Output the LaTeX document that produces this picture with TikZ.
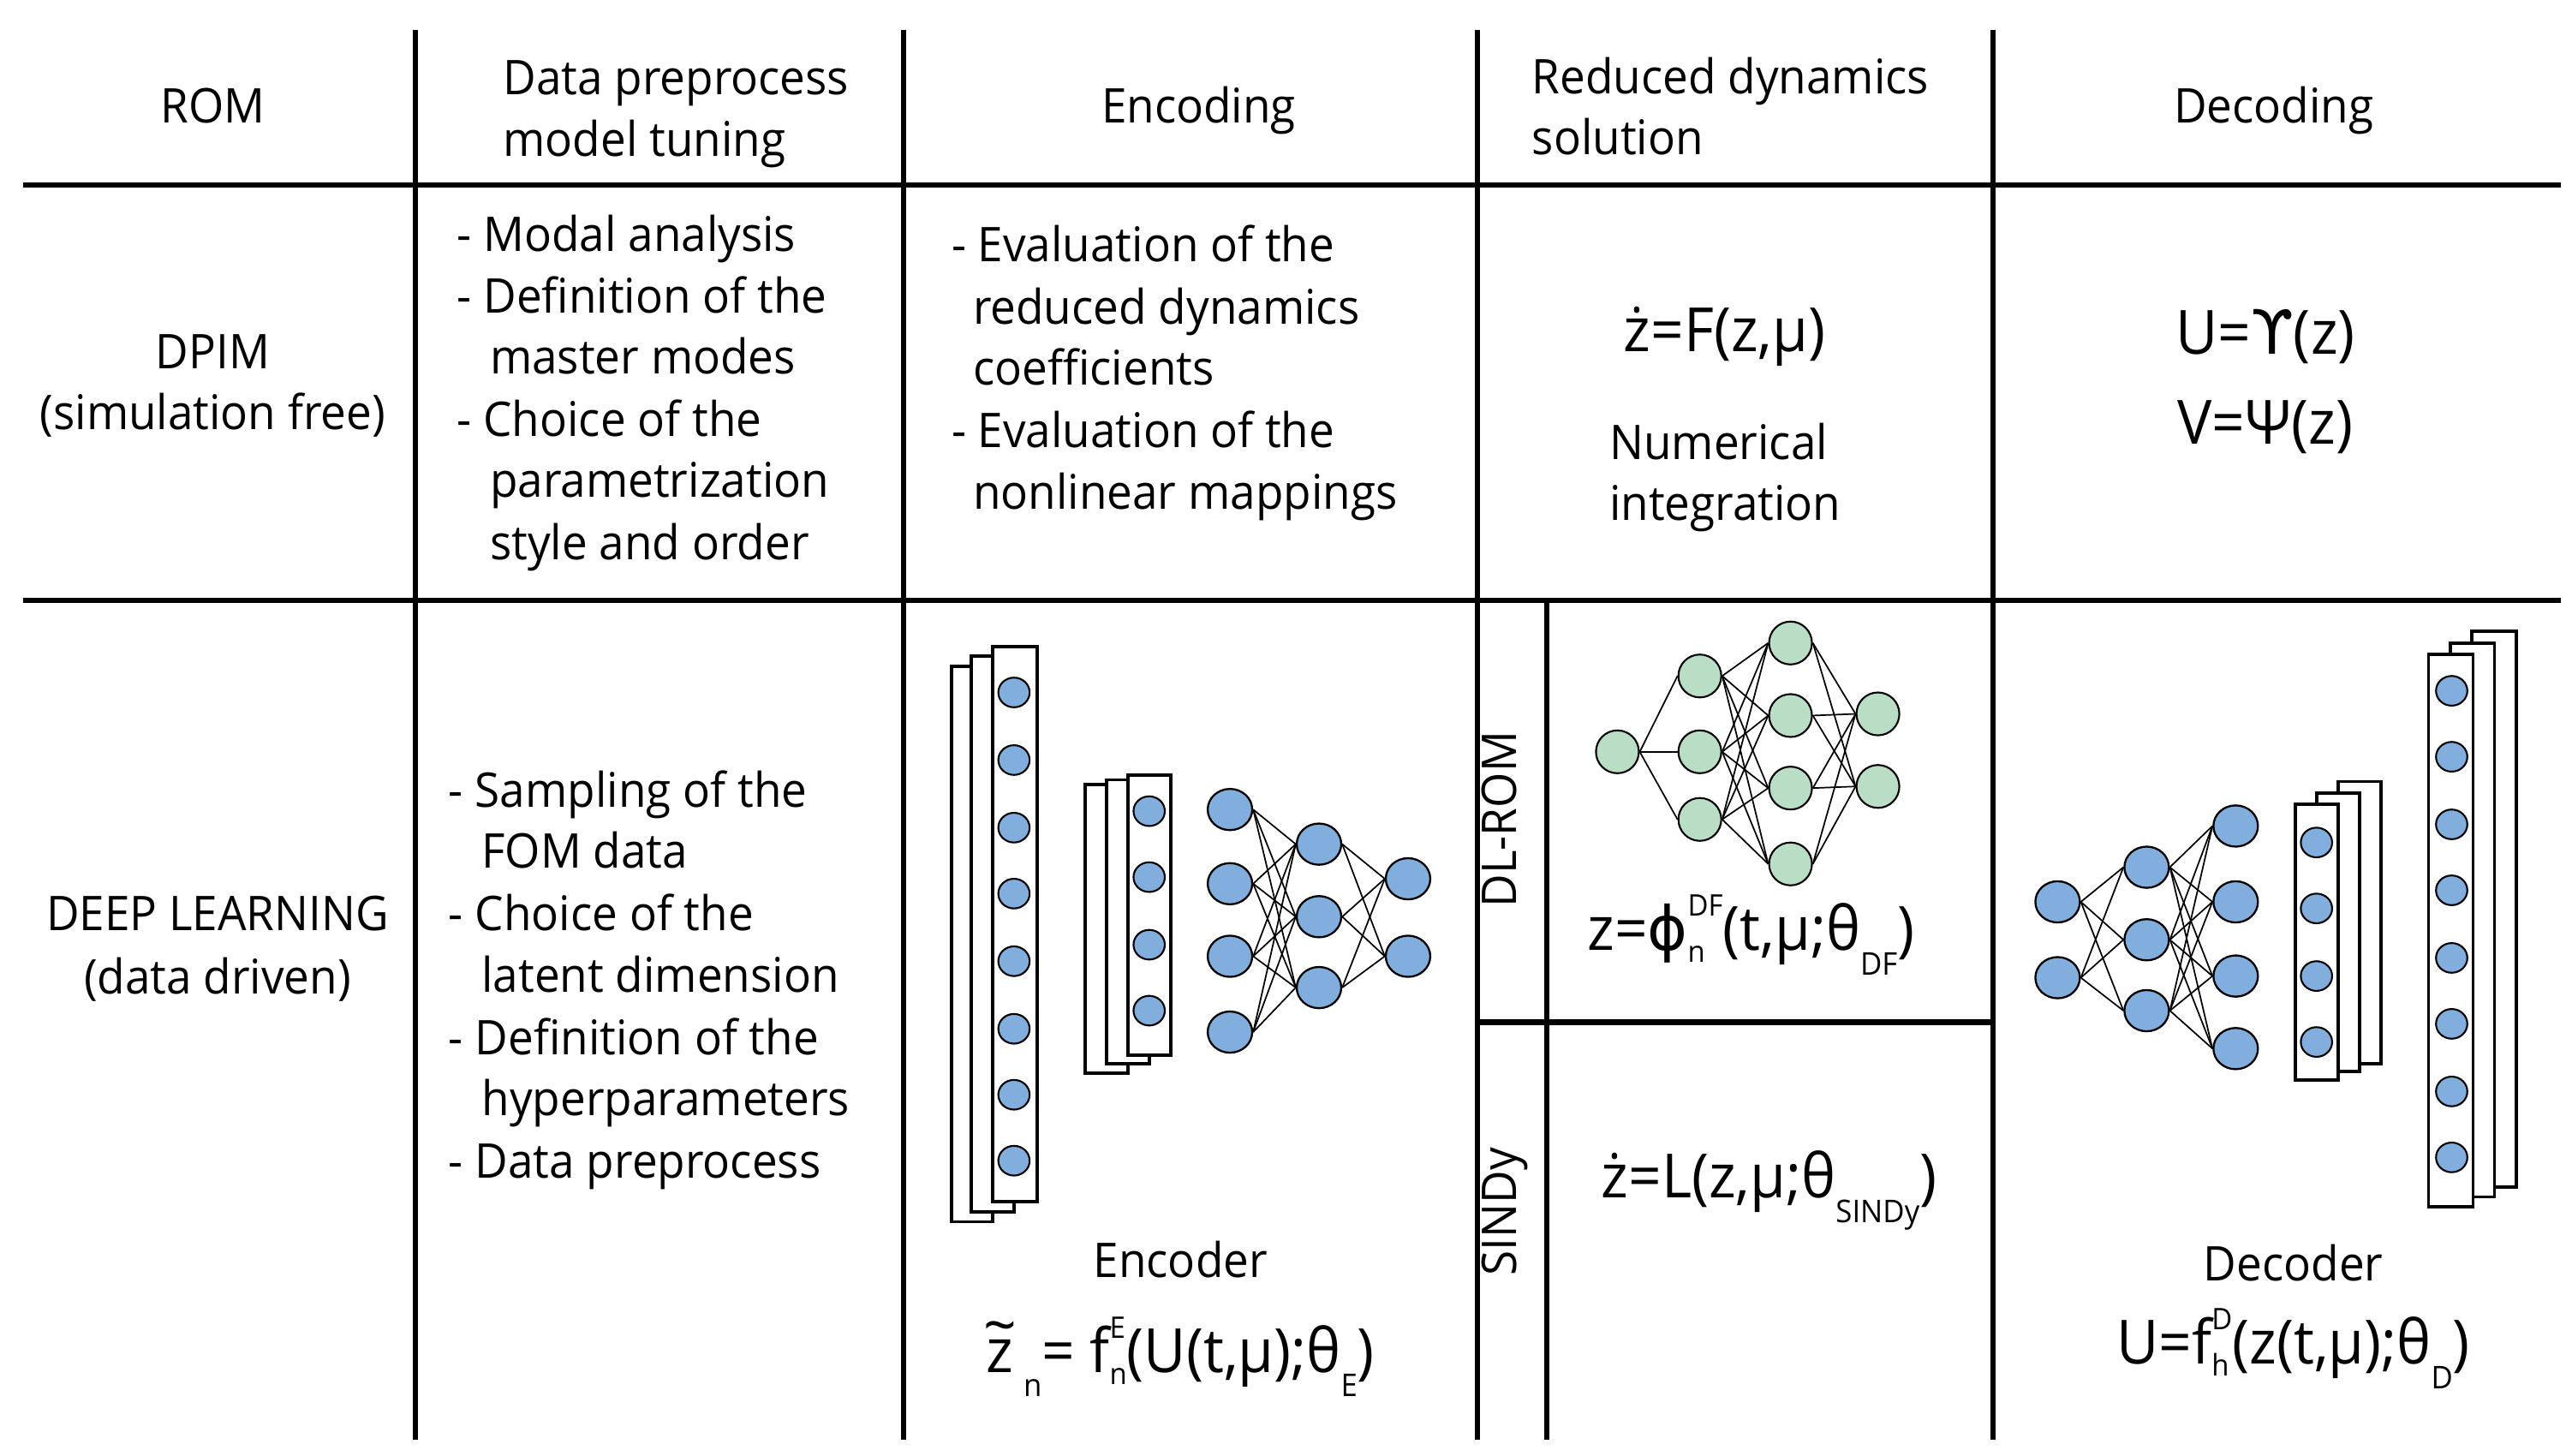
\documentclass[tikz,border=0pt]{standalone}
\usepackage{fontspec}
\usetikzlibrary{shapes.geometric}
\setmainfont{Open Sans}[FakeStretch=0.95]
\newfontfamily\dv{DejaVu Sans}
\newcommand{\hiLo}[2]{{\fontsize{18}{18}\selectfont\sbox0{#1}\sbox2{#2}\ifdim\wd0>\wd2 \dimen0=\wd0 \else \dimen0=\wd2 \fi\rlap{\raisebox{1.15em}{#1}}\rlap{\raisebox{-0.4em}{#2}}\hspace{\dimen0}}}
\newcommand{\loT}[1]{\raisebox{-0.4em}{\fontsize{19}{19}\selectfont #1}}
\newcommand{\ztil}{\ooalign{z\cr\hidewidth\raisebox{0.42em}{\char"7E}\hidewidth}}
\begin{document}
\begin{tikzpicture}[x=1pt,y=-1pt,
  grid/.style={line width=3.2pt},
  t/.style={font=\fontsize{29}{37}\selectfont, inner sep=0pt, text height=0.75em, text depth=0.22em, yshift=-5pt},
  tb/.style={font=\fontsize{37}{42}\selectfont, inner sep=0pt},
  bl/.style={ellipse, draw, line width=1.2pt, fill=blueN, minimum width=27pt, minimum height=25pt, inner sep=0pt},
  bs/.style={ellipse, draw, line width=1.1pt, fill=blueN, minimum width=19pt, minimum height=18pt, inner sep=0pt},
  gn/.style={circle, draw, line width=1.1pt, fill=greenN, minimum size=26pt, inner sep=0pt},
  lay/.style={draw, line width=2pt, fill=white},
  ed/.style={line width=0.9pt}]
\definecolor{blueN}{HTML}{82AEDD}
\definecolor{greenN}{HTML}{BADDC6}
\useasboundingbox (0,0) rectangle (1560,883);
% grid
\draw[grid] (252,18) -- (252,873);
\draw[grid] (548,18) -- (548,873);
\draw[grid] (896,18) -- (896,873);
\draw[grid] (1209,18) -- (1209,873);
\draw[grid] (14,112) -- (1553,112);
\draw[grid] (14,364) -- (1553,364);
\draw[grid] (938,364) -- (938,873);
\draw[grid] (896,620) -- (1209,620);
% header
\node[t] (h1) at (129,67) {ROM};
\node[t,anchor=west] (h2a) at (305,50) {Data preprocess};
\node[t,anchor=west] (h2b) at (305,87) {model tuning};
\node[t] (h3) at (727,67) {Encoding};
\node[t,anchor=west] (h4a) at (929,49) {Reduced dynamics};
\node[t,anchor=west] (h4b) at (929,86) {solution};
\node[t] (h5) at (1379,67) {Decoding};
% DPIM row
\node[t] (d1a) at (129,216) {DPIM};
\node[t] (d1b) at (129,253) {(simulation free)};
\node[t,anchor=west] (d2a) at (277,145) {- Modal analysis};
\node[t,anchor=west] (d2b) at (277,182) {- Definition of the};
\node[t,anchor=west] (d2c) at (297,219) {master modes};
\node[t,anchor=west] (d2d) at (277,257) {- Choice of the};
\node[t,anchor=west] (d2e) at (297,294) {parametrization};
\node[t,anchor=west] (d2f) at (297,332) {style and order};
\node[t,anchor=west] (d3a) at (577,151) {- Evaluation of the};
\node[t,anchor=west] (d3b) at (590,189) {reduced dynamics};
\node[t,anchor=west] (d3c) at (590,226) {coefficients};
\node[t,anchor=west] (d3d) at (577,264) {- Evaluation of the};
\node[t,anchor=west] (d3e) at (590,301) {nonlinear mappings};
\node[tb] (d4a) at (1046,204) {ż=F(z,μ)};
\node[t,anchor=west] (d4b) at (976,271) {Numerical};
\node[t,anchor=west] (d4c) at (976,308) {integration};
\node[tb] (d5a) at (1374,204) {U={\dv ϒ}(z)};
\node[tb] (d5b) at (1374,259) {V=Ψ(z)};
% DL row
\node[t] (l1a) at (132,557) {DEEP LEARNING};
\node[t] (l1b) at (132,595) {(data driven)};
\node[t,anchor=west] (l2a) at (272,482) {- Sampling of the};
\node[t,anchor=west] (l2b) at (292,519) {FOM data};
\node[t,anchor=west] (l2c) at (272,557) {- Choice of the};
\node[t,anchor=west] (l2d) at (292,594) {latent dimension};
\node[t,anchor=west] (l2e) at (272,632) {- Definition of the};
\node[t,anchor=west] (l2f) at (292,669) {hyperparameters};
\node[t,anchor=west] (l2g) at (272,707) {- Data preprocess};
% encoder
\draw[lay] (577,404) rectangle (602,741);
\draw[lay] (589,398) rectangle (615,735);
\draw[lay] (602,392) rectangle (629,729);
\foreach \y [count=\i] in {420,461,502,542,583,624,664,704} \node[bs] (ea\i) at (615,\y) {};
\draw[lay] (658,476) rectangle (684,651);
\draw[lay] (671,473) rectangle (697,645);
\draw[lay] (684,470) rectangle (710,640);
\foreach \y [count=\i] in {492,532,573,613} \node[bs] (eb\i) at (697,\y) {};
\foreach \y [count=\i] in {491,536,580,626} \node[bl] (e1\i) at (746,\y) {};
\foreach \y [count=\i] in {512,556,599} \node[bl] (e2\i) at (800,\y) {};
\foreach \y [count=\i] in {533,580} \node[bl] (e3\i) at (854,\y) {};
\foreach \i in {1,...,4} \foreach \j in {1,2,3} \draw[ed] (e1\i.east) -- (e2\j.west);
\foreach \i in {1,2,3} \foreach \j in {1,2} \draw[ed] (e2\i.east) -- (e3\j.west);
\node[t] (enc) at (716,767) {Encoder};
\node[tb] (encf) at (716,823) {\ztil\,\loT{n}= f\hiLo{E}{n}(U(t,μ);θ\loT{E})};
% reduced dynamics DL
\node[t,rotate=90,yshift=0pt,xshift=5pt] (dlrom) at (917,497) {DL-ROM};
\node[t,rotate=90,yshift=0pt,xshift=5pt] (sindy) at (917,735) {SINDy};
\node[gn] (g11) at (981,456) {};
\foreach \y [count=\i] in {410,456,497} \node[gn] (g2\i) at (1031,\y) {};
\foreach \y [count=\i] in {390,434,478,524} \node[gn] (g3\i) at (1086,\y) {};
\foreach \y [count=\i] in {433,477} \node[gn] (g4\i) at (1139,\y) {};
\foreach \j in {1,2,3} \draw[ed] (g11.east) -- (g2\j.west);
\foreach \i in {1,2,3} \foreach \j in {1,...,4} \draw[ed] (g2\i.east) -- (g3\j.west);
\foreach \i in {1,...,4} \foreach \j in {1,2} \draw[ed] (g3\i.east) -- (g4\j.west);
\node[tb] (dlf) at (1062,567) {z={\dv ϕ}\hiLo{DF}{n}(t,μ;θ\loT{DF})};
\node[tb] (sif) at (1073,722) {ż=L(z,μ;θ\loT{SINDy})};
% decoder
\foreach \y [count=\i] in {547,593} \node[bl] (c1\i) at (1248,\y) {};
\foreach \y [count=\i] in {526,570,613} \node[bl] (c2\i) at (1302,\y) {};
\foreach \y [count=\i] in {501,547,592,636} \node[bl] (c3\i) at (1356,\y) {};
\foreach \i in {1,2} \foreach \j in {1,2,3} \draw[ed] (c1\i.east) -- (c2\j.west);
\foreach \i in {1,2,3} \foreach \j in {1,...,4} \draw[ed] (c2\i.east) -- (c3\j.west);
\draw[lay] (1418,474) rectangle (1444,645);
\draw[lay] (1405,481) rectangle (1431,650);
\draw[lay] (1392,488) rectangle (1418,655);
\foreach \y [count=\i] in {511,551,592,632} \node[bs] (cb\i) at (1405,\y) {};
\draw[lay] (1499,383) rectangle (1526,720);
\draw[lay] (1486,390) rectangle (1513,726);
\draw[lay] (1473,397) rectangle (1500,732);
\foreach \y [count=\i] in {419,459,500,540,581,621,662,702} \node[bs] (ca\i) at (1487,\y) {};
\node[t] (dec) at (1391,769) {Decoder};
\node[tb] (decf) at (1391,818) {U=f\hiLo{D}{h}(z(t,μ);θ\loT{D})};
\end{tikzpicture}
\end{document}
